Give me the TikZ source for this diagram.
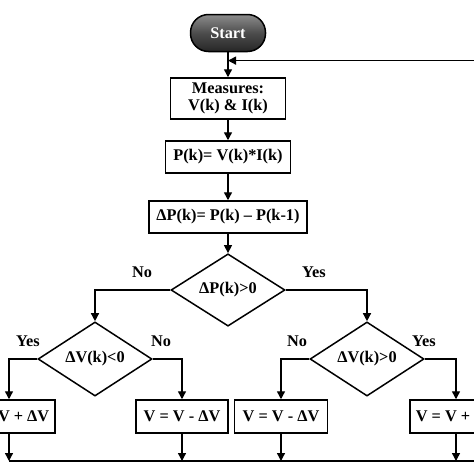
\documentclass[tikz,border=0pt]{standalone}
\usepackage{fontspec}
\setmainfont{Liberation Serif}
\usetikzlibrary{arrows.meta,shapes.geometric,calc}
\begin{document}
\begin{tikzpicture}[x=1pt,y=-1pt,
  font=\fontsize{16.3}{17}\selectfont\bfseries,
  line width=1.4pt,
  arr/.style={-{Triangle[length=8pt,width=8pt]}},
  box/.style={draw,line width=1.5pt,rectangle,inner sep=0pt,align=center},
  dia/.style={draw,line width=1.5pt,diamond,inner sep=0pt,minimum width=114pt,minimum height=69pt},
  lab/.style={inner sep=0pt},
  term/.style={draw,line width=1.5pt,rectangle,rounded corners=18pt,minimum width=75pt,minimum height=37pt,inner sep=0pt,
    text=white,top color=black!45,bottom color=black!85,middle color=black!70}]
\useasboundingbox (0,0) rectangle (474,474);
\clip (0,0) rectangle (474,474);
\fill[white] (0,0) rectangle (474,474);

\node[term] (start) at (228,33) {Start};
\node[box,minimum width=115pt,minimum height=41pt] (meas) at (228,98.5) {Measures:\\V(k) \& I(k)};
\node[box,minimum width=125pt,minimum height=32pt] (pk) at (228,157) {P(k)= V(k)*I(k)};
\node[box,minimum width=158pt,minimum height=32pt] (dp) at (228,217) {ΔP(k)= P(k) -- P(k-1)};
\node[dia] (d1) at (228,290) {ΔP(k)>0};
\node[dia] (d2) at (95,359) {ΔV(k)<0};
\node[dia] (d3) at (367,359) {ΔV(k)>0};
\node[box,minimum width=92pt,minimum height=33pt] (b1) at (9,416.5) {V = V + ΔV};
\node[box,minimum width=92pt,minimum height=33pt] (b2) at (182,416.5) {V = V - ΔV};
\node[box,minimum width=93pt,minimum height=33pt] (b3) at (281,416.5) {V = V - ΔV};
\node[box,minimum width=92pt,minimum height=33pt] (b4) at (456,416.5) {V = V + ΔV};

\node[lab] (l1) at (142,272) {No};
\node[lab] (l2) at (314,272) {Yes};
\node[lab] (l3) at (28,341) {Yes};
\node[lab] (l4) at (161,341) {No};
\node[lab] (l5) at (297,341) {No};
\node[lab] (l6) at (424,341) {Yes};

\coordinate (fb) at (start.south |- 0,60.6);
\coordinate (bl) at (b1.south |- 0,461);
\coordinate (bm2) at (b2.south |- 0,461);
\coordinate (bm3) at (b3.south |- 0,461);
\coordinate (bm4) at (b4.south |- 0,461);
\coordinate (br) at (478,461);

\draw[arr] (start.south) -- (meas.north);
\draw[arr] (meas.south) -- (pk.north);
\draw[arr] (pk.south) -- (dp.north);
\draw[arr] (dp.south) -- (d1.north);
\draw[arr] (d1.west) -| (d2.north);
\draw[arr] (d1.east) -| (d3.north);
\draw[arr] (d2.west) -| (b1.north);
\draw[arr] (d2.east) -| (b2.north);
\draw[arr] (d3.west) -| (b3.north);
\draw[arr] (d3.east) -| (b4.north);
\draw[arr] (b1.south) -- (bl);
\draw[arr] (b2.south) -- (bm2);
\draw[arr] (b3.south) -- (bm3);
\draw[arr] (b4.south) -- (bm4);
\draw (bl) -- (br);
\draw[arr] (br) |- (fb);
\end{tikzpicture}
\end{document}
